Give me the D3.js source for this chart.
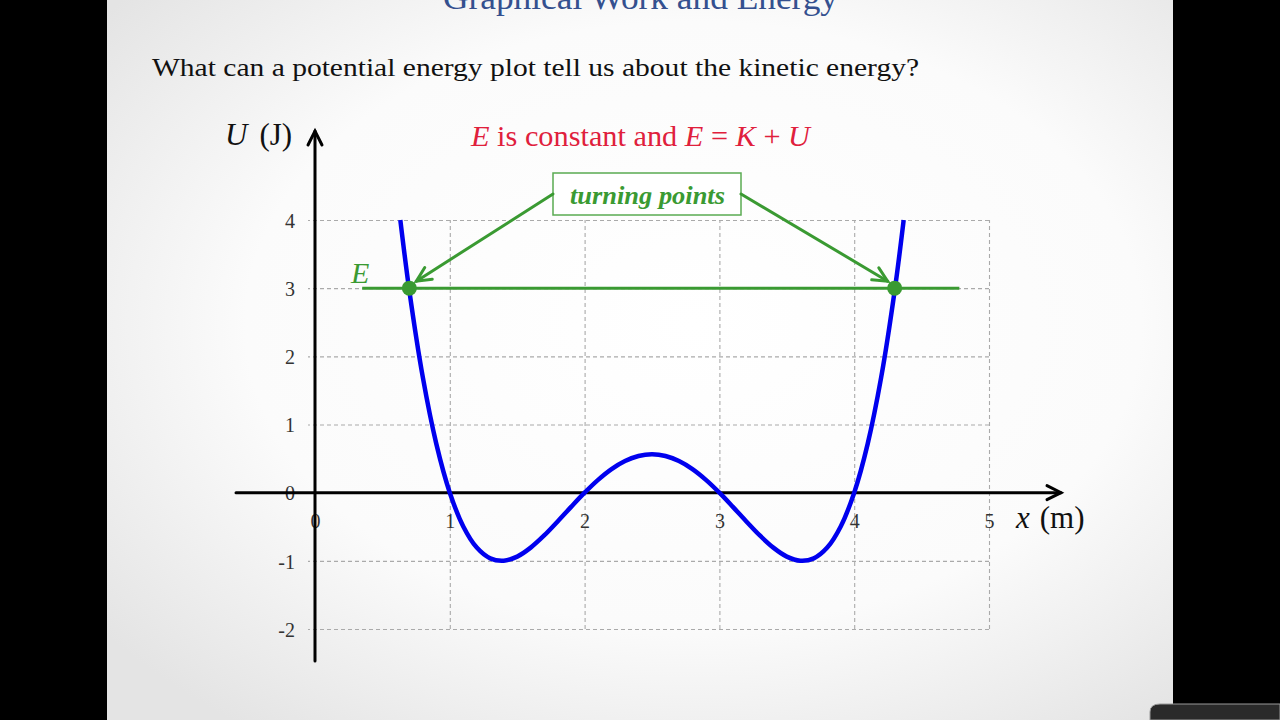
<!DOCTYPE html>
<html><head><meta charset="utf-8">
<script src="https://cdn.jsdelivr.net/npm/d3@7"></script>
<style>
html,body{margin:0;padding:0;background:#000;overflow:hidden}
svg{display:block}
text{font-family:"Liberation Serif","Times New Roman",serif}
</style></head>
<body>
<svg id="c" width="1280" height="720"></svg>
<script>
// ---- data ----
const xTicks = [0, 1, 2, 3, 4, 5];
const yTicks = [-2, -1, 0, 1, 2, 3, 4];
const xTickLabels = ["0", "1", "2", "3", "4", "5"];
const yTickLabels = ["-2", "-1", "0", "1", "2", "3", "4"];
const curveX = [0.633, 0.7, 0.8, 0.9, 1.0, 1.1, 1.2, 1.3, 1.4, 1.5, 1.6, 1.7, 1.8, 1.9, 2.0, 2.1, 2.2, 2.3, 2.4, 2.5,
                2.6, 2.7, 2.8, 2.9, 3.0, 3.1, 3.2, 3.3, 3.4, 3.5, 3.6, 3.7, 3.8, 3.9, 4.0, 4.1, 4.2, 4.3, 4.367];
const curveU = [4.0, 2.96, 1.69, 0.716, 0, -0.496, -0.806, -0.964, -0.998, -0.938, -0.806, -0.628, -0.422, -0.208, 0, 0.188, 0.346, 0.464, 0.538, 0.5625,
                0.538, 0.464, 0.346, 0.188, 0, -0.208, -0.422, -0.628, -0.806, -0.938, -0.998, -0.964, -0.806, -0.496, 0, 0.716, 1.69, 2.96, 4.0];
const energyE = 3;
const energyRange = [0.35, 4.78];
const turningPoints = [0.70, 4.30];
const titleText = "Graphical Work and Energy";
const questionText = "What can a potential energy plot tell us about the kinetic energy?";
const boxLabel = "turning points";

// ---- drawing ----
const svg = d3.select("#c");
const defs = svg.append("defs");
const rg = defs.append("radialGradient").attr("id","bg").attr("cx","55%").attr("cy","45%").attr("r","70%");
rg.append("stop").attr("offset","0%").attr("stop-color","#ffffff");
rg.append("stop").attr("offset","60%").attr("stop-color","#fbfbfb");
rg.append("stop").attr("offset","100%").attr("stop-color","#e4e4e4");

svg.append("rect").attr("width",1280).attr("height",720).attr("fill","#000");
svg.append("rect").attr("x",107).attr("y",0).attr("width",1066).attr("height",720).attr("fill","url(#bg)");

const green = "#3a9a32";
const x = d3.scaleLinear().domain([0,5]).range([315,989]);
const y = d3.scaleLinear().domain([-2,4]).range([629,220]);

function fitText(sel, w){ sel.attr("textLength",w).attr("lengthAdjust","spacingAndGlyphs"); }

// title (cut off at the top of the slide, as in the source)
const tt = svg.append("text").attr("x",443).attr("y",9)
  .attr("font-size",34).attr("fill","#34508f").text(titleText);
fitText(tt, 395);

const q = svg.append("text").attr("x",152).attr("y",76).attr("font-size",26).attr("fill","#111").text(questionText);
fitText(q, 767);

// gridlines via axes
const gx = svg.append("g").attr("transform",`translate(0,${y(-2)})`)
  .call(d3.axisBottom(x).tickValues(xTicks.slice(1)).tickSize(-(y(-2)-y(4))).tickFormat(""));
gx.select(".domain").remove();
gx.selectAll("line").attr("stroke","#aaa").attr("stroke-width",1.1).attr("stroke-dasharray","4,3");

const gy = svg.append("g").attr("transform",`translate(${x(5)},0)`)
  .call(d3.axisLeft(y).tickValues(yTicks.filter(d=>d!==0)).tickSize(x(5)-x(0)+7).tickFormat(""));
gy.select(".domain").remove();
gy.selectAll("line").attr("stroke","#aaa").attr("stroke-width",1.1).attr("stroke-dasharray","4,3");

// tick labels via axes
const ax = svg.append("g").attr("transform",`translate(0,528)`)
  .call(d3.axisBottom(x).tickValues(xTicks).tickSize(0).tickFormat((d,i)=>xTickLabels[i]));
ax.select(".domain").remove();
ax.selectAll("text").attr("font-family","Liberation Serif, serif").attr("font-size",20).attr("fill","#333").attr("y",0).attr("dy",0);

const ay = svg.append("g").attr("transform",`translate(295,0)`)
  .call(d3.axisLeft(y).tickValues(yTicks).tickSize(0).tickFormat((d,i)=>yTickLabels[i]));
ay.select(".domain").remove();
ay.selectAll("text").attr("font-family","Liberation Serif, serif").attr("font-size",20).attr("fill","#333").attr("x",0).attr("dy","0.36em");

// axes lines
const axisG = svg.append("g").attr("stroke","#000").attr("stroke-width",3).attr("fill","none").attr("stroke-linecap","round");
axisG.append("line").attr("x1",x(0)).attr("x2",x(0)).attr("y1",661).attr("y2",131);
axisG.append("path").attr("d",`M${x(0)-7},${145} L${x(0)},${131} L${x(0)+7},${145}`);
axisG.append("line").attr("x1",236).attr("x2",1061).attr("y1",y(0)).attr("y2",y(0));
axisG.append("path").attr("d",`M1047,${y(0)-7} L1061,${y(0)} L1047,${y(0)+7}`);

// axis titles
const ut = svg.append("text").attr("x",225).attr("y",145).attr("font-size",31).attr("fill","#111");
ut.append("tspan").attr("font-style","italic").text("U");
ut.append("tspan").attr("dx",12).text("(J)");
const xt = svg.append("text").attr("x",1016).attr("y",528).attr("font-size",31).attr("fill","#111");
xt.append("tspan").attr("font-style","italic").text("x");
xt.append("tspan").attr("dx",10).text("(m)");

// red statement
const rt = svg.append("text").attr("x",471).attr("y",146).attr("font-size",29).attr("fill","#e0203c");
rt.append("tspan").attr("font-style","italic").text("E");
rt.append("tspan").text(" is constant and ");
rt.append("tspan").attr("font-style","italic").text("E");
rt.append("tspan").text(" = ");
rt.append("tspan").attr("font-style","italic").text("K");
rt.append("tspan").text(" + ");
rt.append("tspan").attr("font-style","italic").text("U");
fitText(rt, 339);

// potential curve
const pts = curveX.map((d,i)=>[d,curveU[i]]);
svg.append("path").datum(pts)
  .attr("d", d3.line().x(d=>x(d[0])).y(d=>y(d[1])).curve(d3.curveCatmullRom.alpha(0.5)))
  .attr("fill","none").attr("stroke","#0000ee").attr("stroke-width",4.5).attr("stroke-linejoin","round");

// energy line
svg.append("line").attr("x1",x(energyRange[0])).attr("x2",x(energyRange[1])).attr("y1",y(energyE)).attr("y2",y(energyE))
  .attr("stroke",green).attr("stroke-width",3);
svg.append("text").attr("x",351).attr("y",283).attr("font-size",30).attr("font-style","italic").attr("fill",green).text("E");

// box
svg.append("rect").attr("x",553).attr("y",173).attr("width",188).attr("height",42)
  .attr("fill","#fff").attr("stroke","#5aab52").attr("stroke-width",1.5);
const bt = svg.append("text").attr("x",570).attr("y",204).attr("font-size",26)
  .attr("font-weight","bold").attr("font-style","italic").attr("fill",green).text(boxLabel);
fitText(bt, 155);

// arrows
function arrow(x1,y1,x2,y2){
  svg.append("line").attr("x1",x1).attr("y1",y1).attr("x2",x2).attr("y2",y2)
    .attr("stroke",green).attr("stroke-width",3).attr("stroke-linecap","round");
  const ang = Math.atan2(y2-y1,x2-x1), L=16, w=0.45;
  const p1=[x2-L*Math.cos(ang-w), y2-L*Math.sin(ang-w)], p2=[x2-L*Math.cos(ang+w), y2-L*Math.sin(ang+w)];
  svg.append("path").attr("d",`M${p1} L${x2},${y2} L${p2}`).attr("fill","none")
    .attr("stroke",green).attr("stroke-width",3).attr("stroke-linejoin","miter").attr("stroke-linecap","round");
}
arrow(553,194, x(turningPoints[0])+7, y(energyE)-7);
arrow(741,194, x(turningPoints[1])-7, y(energyE)-7);

// turning points
svg.selectAll("circle.tp").data(turningPoints).enter().append("circle")
  .attr("cx",d=>x(d)).attr("cy",y(energyE)).attr("r",7.5).attr("fill",green);

// video control hint
svg.append("path").attr("d","M1150,720 L1150,712 Q1150,704 1160,704 L1280,704 L1280,720 Z").attr("fill","#2a2a2a").attr("stroke","#999").attr("stroke-width",1);
</script>
</body></html>
